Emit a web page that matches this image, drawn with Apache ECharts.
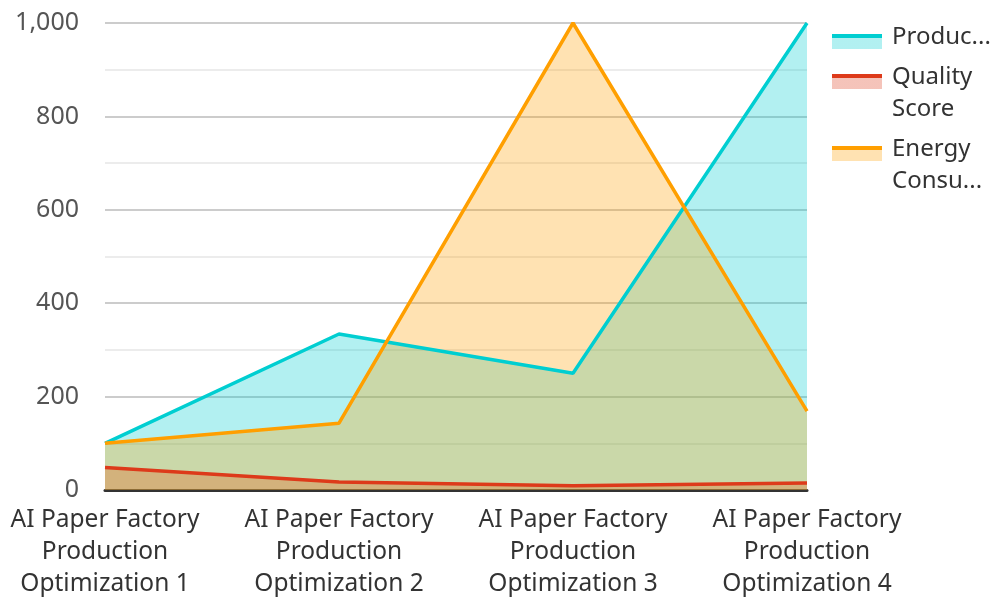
<!DOCTYPE html>
<html><head><meta charset="utf-8">
<script src="https://cdn.jsdelivr.net/npm/echarts@6/dist/echarts.min.js"></script>
<style>html,body{margin:0;padding:0;background:#fff}#c{width:994px;height:597px}</style>
</head><body><div id="c"></div>
<script>
const categories = ["AI Paper Factory Production Optimization 1","AI Paper Factory Production Optimization 2","AI Paper Factory Production Optimization 3","AI Paper Factory Production Optimization 4"];
const seriesNames = ["Production Efficiency","Quality Score","Energy Consumption"];
const legendLabels = ["Produc...", "Quality\nScore", "Energy\nConsu..."];
const production = [100, 334, 250, 1000];
const quality = [48, 17, 9, 15];
const energy = [100, 143, 1000, 169];
const colors = ["#00CED1", "#DD3A1A", "#FF9F00"];
const fills = ["rgba(0,206,209,0.3)", "rgba(221,58,26,0.3)", "rgba(255,159,0,0.3)"];
const yTicks = {min: 0, max: 1000, interval: 200};

const chart = echarts.init(document.getElementById('c'));
const font = "'Noto Sans', sans-serif";
function mk(name, data, i){
  return {name, type:'line', data, symbol:'none', smooth:false,
    lineStyle:{width:3.5, color:colors[i]}, itemStyle:{color:colors[i]},
    areaStyle:{color:colors[i], opacity:0.3}};
}
// legend icon: solid line band on top of a light area band
function legendFor(i, top, lines){
  const H = 32 * lines;
  const path = 'path://M0,0L0.01,0L0,0.01Z M55,' + H + 'L54.99,' + H + 'L55,' + (H - 0.01) + 'Z M0,13H50V28H0Z';
  const cut = 17 / H;
  return {
    orient:'vertical', left:827, top:top, itemWidth:55, itemHeight:H, symbolKeepAspect:false,
    icon: path, selectedMode:false,
    itemStyle:{color:{type:'linear', x:0, y:0, x2:0, y2:1, colorStops:[
      {offset:0, color:colors[i]}, {offset:cut, color:colors[i]},
      {offset:cut, color:fills[i]}, {offset:1, color:fills[i]}]}},
    textStyle:{fontSize:24, color:'#333', fontFamily:font, lineHeight:32},
    formatter: () => legendLabels[i],
    data:[seriesNames[i]]
  };
}
chart.setOption({
  animation:false,
  textStyle:{fontFamily:font},
  color: colors,
  grid:{left:105, right:187, top:23, bottom:107, containLabel:false, outerBoundsMode:'none'},
  legend:[legendFor(0, 16, 1), legendFor(1, 56, 2), legendFor(2, 128, 2)],
  xAxis:{type:'category', data:categories, boundaryGap:false,
    axisLine:{lineStyle:{color:'#333', width:3}}, axisTick:{show:false},
    axisLabel:{fontSize:24.5, color:'#333', lineHeight:32, margin:14, interval:0, fontFamily:font,
      formatter: v => v.replace(' Production ', '\nProduction\n')}},
  yAxis:{type:'value', min:yTicks.min, max:yTicks.max, interval:yTicks.interval,
    axisLabel:{fontSize:25, color:'#555', margin:26, fontFamily:font},
    axisLine:{show:false}, axisTick:{show:false},
    splitLine:{lineStyle:{color:'#bbb', width:1.5}},
    minorTick:{show:false, splitNumber:2},
    minorSplitLine:{show:true, lineStyle:{color:'#e6e6e6', width:1.5}}},
  series:[mk(seriesNames[0], production, 0), mk(seriesNames[1], quality, 1), mk(seriesNames[2], energy, 2)]
});
</script></body></html>
